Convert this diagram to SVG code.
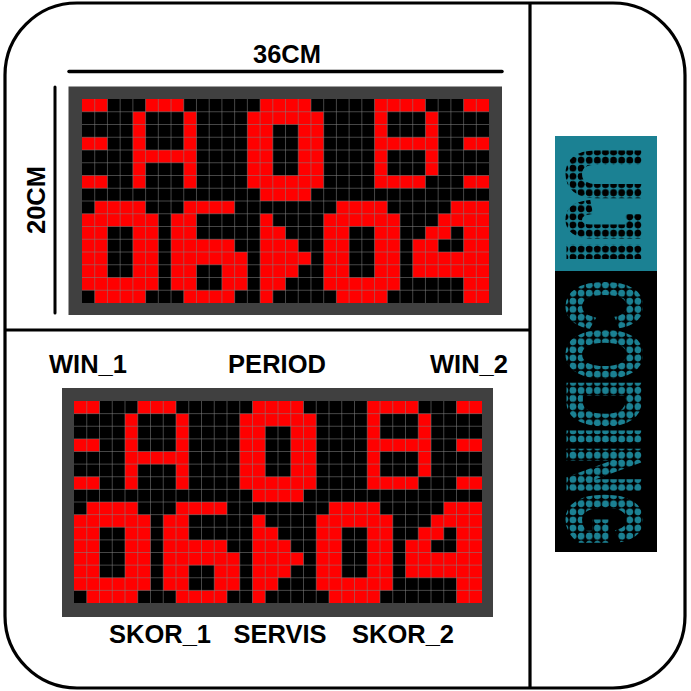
<svg xmlns="http://www.w3.org/2000/svg" xmlns:xlink="http://www.w3.org/1999/xlink" width="691" height="691" viewBox="0 0 691 691">
<style>
.lbl{font-family:"Liberation Sans",Arial,sans-serif;font-weight:bold;font-size:25.5px;fill:#000;text-anchor:middle}
.frame{fill:none;stroke:#000;stroke-width:3.2}
.dim{stroke:#000;stroke-width:3.5;stroke-linecap:round;fill:none}
.panel{fill:#404040}
.logo{font-family:"Liberation Sans",Arial,sans-serif;font-weight:bold;font-size:102px}
</style>
<defs>
<pattern id="dotsK" patternUnits="userSpaceOnUse" width="8.1" height="8.1"><circle cx="4.05" cy="4.05" r="3.4" fill="#000"/></pattern>
<pattern id="dotsT" patternUnits="userSpaceOnUse" width="8.1" height="8.1"><circle cx="4.05" cy="4.05" r="3.4" fill="#1b8193"/></pattern>
<g id="matrix">
<rect x="0" y="0" width="32" height="16" fill="#000"/>
<path fill="#ff0000" d="M0 0h2v1h-2z M5 0h3v1h-3z M14 0h4v1h-4z M23 0h4v1h-4z M30 0h2v1h-2z
M4 1h1v1h-1z M8 1h1v1h-1z M13 1h6v1h-6z M23 1h1v1h-1z M27 1h1v1h-1z
M4 2h1v1h-1z M8 2h1v1h-1z M13 2h2v1h-2z M17 2h2v1h-2z M23 2h1v1h-1z M27 2h1v1h-1z
M0 3h2v1h-2z M4 3h1v1h-1z M8 3h1v1h-1z M13 3h2v1h-2z M17 3h2v1h-2z M23 3h5v1h-5z M30 3h2v1h-2z
M4 4h5v1h-5z M13 4h2v1h-2z M17 4h2v1h-2z M23 4h1v1h-1z M27 4h1v1h-1z
M4 5h1v1h-1z M8 5h1v1h-1z M13 5h2v1h-2z M17 5h2v1h-2z M23 5h1v1h-1z M27 5h1v1h-1z
M0 6h2v1h-2z M4 6h1v1h-1z M8 6h1v1h-1z M13 6h6v1h-6z M23 6h4v1h-4z M30 6h2v1h-2z
M14 7h4v1h-4z
M1 8h4v1h-4z M8 8h4v1h-4z M20 8h4v1h-4z M29 8h3v1h-3z
M0 9h6v1h-6z M7 9h2v1h-2z M14 9h1v1h-1z M19 9h6v1h-6z M28 9h4v1h-4z
M0 10h2v1h-2z M4 10h2v1h-2z M7 10h2v1h-2z M14 10h2v1h-2z M19 10h2v1h-2z M23 10h2v1h-2z M27 10h2v1h-2z M30 10h2v1h-2z
M0 11h2v1h-2z M4 11h2v1h-2z M7 11h5v1h-5z M14 11h3v1h-3z M19 11h2v1h-2z M23 11h2v1h-2z M26 11h2v1h-2z M30 11h2v1h-2z
M0 12h2v1h-2z M4 12h2v1h-2z M7 12h6v1h-6z M14 12h4v1h-4z M19 12h2v1h-2z M23 12h2v1h-2z M26 12h6v1h-6z
M0 13h2v1h-2z M4 13h2v1h-2z M7 13h2v1h-2z M11 13h2v1h-2z M14 13h3v1h-3z M19 13h2v1h-2z M23 13h2v1h-2z M26 13h6v1h-6z
M0 14h6v1h-6z M7 14h2v1h-2z M11 14h2v1h-2z M14 14h2v1h-2z M19 14h6v1h-6z M30 14h2v1h-2z
M1 15h4v1h-4z M8 15h4v1h-4z M14 15h1v1h-1z M20 15h4v1h-4z M30 15h2v1h-2z"/>
<path fill="none" stroke="#808080" stroke-opacity="0.55" stroke-width="1" vector-effect="non-scaling-stroke" d="M1 0v16M2 0v16M3 0v16M4 0v16M5 0v16M6 0v16M7 0v16M8 0v16M9 0v16M10 0v16M11 0v16M12 0v16M13 0v16M14 0v16M15 0v16M16 0v16M17 0v16M18 0v16M19 0v16M20 0v16M21 0v16M22 0v16M23 0v16M24 0v16M25 0v16M26 0v16M27 0v16M28 0v16M29 0v16M30 0v16M31 0v16M0 1h32M0 2h32M0 3h32M0 4h32M0 5h32M0 6h32M0 7h32M0 8h32M0 9h32M0 10h32M0 11h32M0 12h32M0 13h32M0 14h32M0 15h32"/>
</g>
</defs>

<g id="frame">
<rect class="frame" x="5" y="3" width="680" height="685" rx="72" ry="72"/>
<line class="frame" x1="530" y1="3" x2="530" y2="688"/>
<line class="frame" x1="5" y1="330" x2="530" y2="330"/>
</g>

<g id="connectors">
<line class="dim" x1="69" y1="71.5" x2="502" y2="71.5"/>
<line class="dim" x1="55" y1="87" x2="55" y2="313" style="stroke-width:3"/>
</g>

<g id="dim-labels">
<text class="lbl" x="287" y="63">36CM</text>
<text class="lbl" transform="translate(45,200) rotate(-90)" x="0" y="0">20CM</text>
</g>

<g id="panel-top">
<rect class="panel" x="68.5" y="86.5" width="433.5" height="228.5"/>
<use xlink:href="#matrix" href="#matrix" transform="translate(82,99) scale(12.72,12.75)"/>
</g>

<g id="panel-bottom">
<rect class="panel" x="62" y="388" width="431" height="229"/>
<use xlink:href="#matrix" href="#matrix" transform="translate(74,401) scale(12.75,12.625)"/>
</g>

<g id="labels">
<text class="lbl" x="88" y="373">WIN_1</text>
<text class="lbl" x="277" y="373">PERIOD</text>
<text class="lbl" x="469" y="373">WIN_2</text>
<text class="lbl" x="160" y="643">SKOR_1</text>
<text class="lbl" x="280" y="643">SERVIS</text>
<text class="lbl" x="403" y="643">SKOR_2</text>
</g>

<g id="logo">
<rect x="555" y="136" width="102" height="135" fill="#1b8193"/>
<rect x="555" y="271" width="102" height="281" fill="#000"/>
<text class="logo" transform="translate(569,148) rotate(90)" x="0" y="0" textLength="114" lengthAdjust="spacingAndGlyphs" fill="url(#dotsK)" stroke="url(#dotsK)" stroke-width="5">UJI</text>
<text class="logo" transform="translate(569,281) rotate(90)" x="0" y="0" textLength="264" lengthAdjust="spacingAndGlyphs" fill="url(#dotsT)" stroke="url(#dotsT)" stroke-width="5">CODING</text>
</g>
</svg>
